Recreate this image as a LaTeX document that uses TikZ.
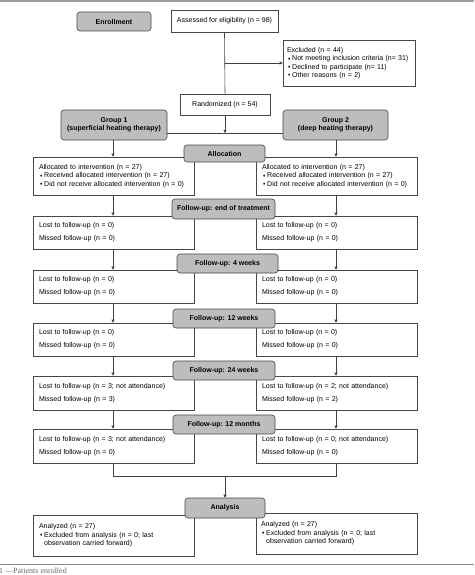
\documentclass[tikz,border=0pt]{standalone}
\usepackage{fontspec}
\setmainfont{Liberation Sans}
\newfontfamily\capfont{Liberation Serif}
\usetikzlibrary{arrows.meta}
\newcommand{\bul}{\makebox[4.2pt][l]{\fontsize{4.5}{5}\selectfont\raisebox{0.5pt}{♦}}}
\newcommand{\fsz}{\fontsize{7}{8.4}\selectfont}
\begin{document}
\begin{tikzpicture}[x=1pt,y=-1pt,
  wbox/.style={draw=black!72, line width=0.6pt, fill=white, inner xsep=6pt, inner ysep=0pt, font=\fsz, align=left},
  wc/.style={draw=black!72, line width=0.6pt, fill=white, inner sep=0pt, font=\fsz, align=center},
  gbox/.style={draw=black!72, line width=0.6pt, fill=black!26, rounded corners=3pt, inner sep=0pt, font=\fsz\bfseries, align=center},
  ln/.style={draw=black!75, line width=0.6pt},
  arr/.style={ln, -{Triangle[length=3pt,width=3pt]}}]
\useasboundingbox (0,0) rectangle (474,575);
\fill[black!38] (0,0) rectangle (474,2.5);
\draw[black!45, line width=0.8pt] (0,564) -- (474,564);
\node[anchor=base west, inner sep=0pt, font=\capfont\fontsize{8}{9}\selectfont, text=black!60] (cap) at (-1,573.2) {1 —Patients enrolled};

% enrollment
\node[gbox, minimum width=74pt, minimum height=19pt] (enr) at (114,21.5) {Enrollment};
\node[wc, minimum width=107pt, minimum height=22pt] (ass) at (224.5,21) {Assessed for eligibility (n = 98)};
\node[wbox, inner xsep=4pt, text width=124pt, minimum height=46pt] (exc) at (349,63)
  {Excluded (n = 44)\\
   \hspace*{1pt}\bul Not meeting inclusion criteria (n= 31)\\
   \hspace*{1pt}\bul Declined to participate (n= 11)\\
   \hspace*{1pt}\bul Other reasons (n = 2)};
\node[wc, minimum width=90pt, minimum height=21pt] (ran) at (225,104.5) {Randomized (n = 54)};
\node[gbox, minimum width=106pt, minimum height=30pt] (g1) at (114,125) {Group 1\\(superficial heating therapy)};
\node[gbox, minimum width=105pt, minimum height=30pt] (g2) at (335.5,125) {Group 2\\(deep heating therapy)};

% allocation boxes
\node[wbox, text width=149pt, minimum height=38pt] (alL) at (113.5,176)
  {Allocated to intervention (n = 27)\\
   \hspace*{1pt}\bul Received allocated intervention (n = 27)\\
   \hspace*{1pt}\bul Did not receive allocated intervention (n = 0)};
\node[wbox, text width=149pt, minimum height=38pt] (alR) at (336.5,176)
  {Allocated to intervention (n = 27)\\
   \hspace*{1pt}\bul Received allocated intervention (n = 27)\\
   \hspace*{1pt}\bul Did not receive allocated intervention (n = 0)};

% follow-up boxes
\node[wbox, text width=149pt, minimum height=33pt] (f1L) at (113.5,232.5) {Lost to follow-up (n = 0)\\[4.6pt]Missed follow-up (n = 0)};
\node[wbox, text width=149pt, minimum height=33pt] (f1R) at (336.5,232.5) {Lost to follow-up (n = 0)\\[4.6pt]Missed follow-up (n = 0)};
\node[wbox, text width=149pt, minimum height=33pt] (f2L) at (113.5,286.5) {Lost to follow-up (n = 0)\\[4.6pt]Missed follow-up (n = 0)};
\node[wbox, text width=149pt, minimum height=33pt] (f2R) at (336.5,286.5) {Lost to follow-up (n = 0)\\[4.6pt]Missed follow-up (n = 0)};
\node[wbox, text width=149pt, minimum height=33pt] (f3L) at (113.5,339.5) {Lost to follow-up (n = 0)\\[4.6pt]Missed follow-up (n = 0)};
\node[wbox, text width=149pt, minimum height=33pt] (f3R) at (336.5,339.5) {Lost to follow-up (n = 0)\\[4.6pt]Missed follow-up (n = 0)};
\node[wbox, text width=149pt, minimum height=34pt] (f4L) at (113.5,393) {Lost to follow-up (n = 3; not attendance)\\[4.6pt]Missed follow-up (n = 3)};
\node[wbox, text width=149pt, minimum height=34pt] (f4R) at (336.5,393) {Lost to follow-up (n = 2; not attendance)\\[4.6pt]Missed follow-up (n = 2)};
\node[wbox, text width=149pt, minimum height=34pt] (f5L) at (113.5,446) {Lost to follow-up (n = 3; not attendance)\\[4.6pt]Missed follow-up (n = 0)};
\node[wbox, text width=149pt, minimum height=34pt] (f5R) at (336.5,446) {Lost to follow-up (n = 0; not attendance)\\[4.6pt]Missed follow-up (n = 0)};

% analysis boxes
\node[wbox, text width=149pt, minimum height=41pt] (anL) at (113.5,535.5)
  {Analyzed (n = 27)\\
   \hspace*{1pt}\bul Excluded from analysis (n = 0; last\\
   \hspace*{5.2pt}observation carried forward)};
\node[wbox, inner xsep=5pt, text width=151pt, minimum height=41pt] (anR) at (336.5,533.5)
  {Analyzed (n = 27)\\
   \hspace*{1pt}\bul Excluded from analysis (n = 0; last\\
   \hspace*{5.2pt}observation carried forward)};

% gray stage labels
\node[gbox, minimum width=81pt, minimum height=17pt] (alloc) at (224.5,153.5) {Allocation};
\node[gbox, minimum width=103pt, minimum height=20pt] (fu1) at (223.5,209) {Follow-up: end of treatment};
\node[gbox, minimum width=101pt, minimum height=19pt] (fu2) at (227.5,263.5) {Follow-up: 4 weeks};
\node[gbox, minimum width=102pt, minimum height=19pt] (fu3) at (224,318.5) {Follow-up: 12 weeks};
\node[gbox, minimum width=102pt, minimum height=19pt] (fu4) at (224,370.5) {Follow-up: 24 weeks};
\node[gbox, minimum width=102pt, minimum height=19pt] (fu5) at (224,424.5) {Follow-up: 12 months};
\node[gbox, minimum width=80pt, minimum height=20pt] (ana) at (225,508) {Analysis};

% connectors
\coordinate (exJ) at (ass.south |- exc.west);
\draw[ln] (ass.south) -- (ran.north);
\draw[arr] (exJ) -- (exc.west);
\coordinate (gJ) at (225,133);
\draw[ln] (g1.east |- gJ) -- (g2.west |- gJ);
\draw[arr] (ran.south) -- (gJ);
\coordinate (cL) at (113,0);
\coordinate (cR) at (336,0);
\draw[arr] (cL |- g1.south) -- (cL |- alL.north);
\draw[arr] (cR |- g2.south) -- (cR |- alR.north);
\draw[arr] (cL |- alL.south) -- (cL |- f1L.north);
\draw[arr] (cR |- alR.south) -- (cR |- f1R.north);
\draw[arr] (cL |- f1L.south) -- (cL |- f2L.north);
\draw[arr] (cR |- f1R.south) -- (cR |- f2R.north);
\draw[arr] (cL |- f2L.south) -- (cL |- f3L.north);
\draw[arr] (cR |- f2R.south) -- (cR |- f3R.north);
\draw[arr] (cL |- f3L.south) -- (cL |- f4L.north);
\draw[arr] (cR |- f3R.south) -- (cR |- f4R.north);
\draw[arr] (cL |- f4L.south) -- (cL |- f5L.north);
\draw[arr] (cR |- f4R.south) -- (cR |- f5R.north);
\coordinate (mJ) at (225,476);
\draw[ln] (cL |- f5L.south) -- (cL |- mJ) -- (cR |- mJ) -- (cR |- f5R.south);
\draw[arr] (mJ) -- (ana.north);
\end{tikzpicture}
\end{document}
